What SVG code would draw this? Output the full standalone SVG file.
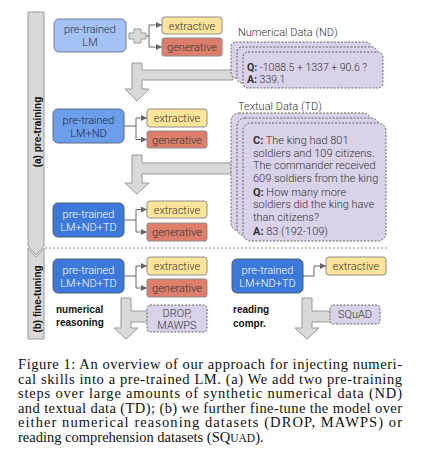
<svg xmlns="http://www.w3.org/2000/svg" width="421" height="471" viewBox="0 0 421 471">
<defs>
<marker id="ah" markerUnits="userSpaceOnUse" markerWidth="6" markerHeight="6" refX="6" refY="3" orient="auto">
<path d="M0,0 L6,3 L0,6 Z" fill="#666"/>
</marker>
<style>
.t{font-family:Roboto,"Liberation Sans",sans-serif;font-weight:300;font-size:11px;fill:#333}
.tw{font-family:Roboto,"Liberation Sans",sans-serif;font-weight:300;font-size:11px;fill:#fff}
.b{font-family:"Liberation Sans",Arial,sans-serif;font-weight:bold;font-size:10px;fill:#111}
.bb{font-weight:bold}
.m{text-anchor:middle}
.ext{fill:#ffe599;stroke:#8c8c8c;stroke-width:1}
.gen{fill:#dd7e6b;stroke:#8c8c8c;stroke-width:1}
.card{fill:#d9d2e9;stroke:#666;stroke-width:1;stroke-dasharray:2,1.5}
.big{fill:#d9d9d9;stroke:#999;stroke-width:1}
.con{fill:none;stroke:#666;stroke-width:1;marker-end:url(#ah)}
.cap{font-family:"Liberation Serif","Times New Roman",serif;font-size:14.5px;fill:#111}
</style>
</defs>
<rect width="421" height="471" fill="#fff"/>

<!-- side bars -->
<g id="bar-pretraining">
<path class="big" d="M28,12 H44 V246 L36,255 L28,246 Z"/>
<text class="b" transform="translate(41,132) rotate(-90)" text-anchor="middle">(a) pre-training</text>
</g>
<g id="bar-finetuning">
<path class="big" d="M28,248 L36,257 L44,248 V339 H28 Z"/>
<text class="b" transform="translate(41,299) rotate(-90)" text-anchor="middle">(b) fine-tuning</text>
</g>
<line x1="45" y1="248" x2="388" y2="248" stroke="#888" stroke-width="1" stroke-dasharray="2,2"/>

<!-- big arrows -->
<g id="big-arrows">
<path class="big" d="M132,63 H142 V70 H233 V80 H142 V89 H149 L137,101 L125,89 H132 Z"/>
<path class="big" d="M132,155 H142 V163 H233 V174 H142 V183 H149 L137,194 L125,183 H132 Z"/>
<path class="big" d="M121,298 H131 V311 H148 V322 H131 V328 H138 L126,339 L114,328 H121 Z"/>
<path class="big" d="M302,298 H312 V311 H331 V322 H312 V328 H319 L307,339 L295,328 H302 Z"/>
</g>

<!-- connectors -->
<g id="connectors">
<path class="con" d="M146,36 H149 V25 H162"/>
<path class="con" d="M149,36 V47 H162"/>
<path class="con" d="M124,126 H136 V118 H147"/>
<path class="con" d="M136,126 V139.5 H147"/>
<path class="con" d="M124,220 H136 V209.5 H147"/>
<path class="con" d="M136,220 V232 H147"/>
<path class="con" d="M124,276 H136 V266 H147"/>
<path class="con" d="M136,276 V288 H147"/>
<path class="con" d="M303,276 H314 V266 H326"/>
</g>

<!-- plus -->
<g id="plus">
<path d="M134,29 H141 V33 H146 V39 H141 V43 H134 V39 H129 V33 H134 Z" fill="#d9d9d9" stroke="#999" stroke-width="1"/>
</g>

<!-- models -->
<g id="lm">
<rect x="54" y="19" width="72" height="33" rx="5" fill="#a4c2f4" stroke="#6f7f99"/>
<text class="t m" x="90" y="33">pre-trained</text>
<text class="t m" x="90" y="46">LM</text>
</g>
<g id="lm-nd">
<rect x="53" y="109" width="71" height="34" rx="5" fill="#6d9eeb" stroke="#5a6a86"/>
<text class="t m" x="88.5" y="124" style="fill:#1f2a40">pre-trained</text>
<text class="t m" x="88.5" y="137" style="fill:#1f2a40">LM+ND</text>
</g>
<g id="lm-nd-td">
<rect x="53" y="203" width="71" height="34" rx="5" fill="#3c78d8" stroke="#4a5a78"/>
<text class="tw m" x="88.5" y="218">pre-trained</text>
<text class="tw m" x="88.5" y="231">LM+ND+TD</text>
</g>
<g id="ft-num">
<rect x="53" y="259" width="71" height="34" rx="5" fill="#3c78d8" stroke="#4a5a78"/>
<text class="tw m" x="88.5" y="274">pre-trained</text>
<text class="tw m" x="88.5" y="287">LM+ND+TD</text>
</g>
<g id="ft-rc">
<rect x="232" y="259" width="71" height="34" rx="5" fill="#3c78d8" stroke="#4a5a78"/>
<text class="tw m" x="267.5" y="274">pre-trained</text>
<text class="tw m" x="267.5" y="287">LM+ND+TD</text>
</g>

<!-- heads -->
<g id="ext1"><rect class="ext" x="162" y="17" width="60" height="17" rx="3"/><text class="t m" x="192" y="29.5">extractive</text></g>
<g id="gen1"><rect class="gen" x="162" y="38" width="60" height="18" rx="2"/><text class="t m" x="192" y="51">generative</text></g>
<g id="ext2"><rect class="ext" x="147" y="109" width="60" height="18" rx="3"/><text class="t m" x="177" y="122">extractive</text></g>
<g id="gen2"><rect class="gen" x="147" y="131" width="60" height="17" rx="2"/><text class="t m" x="177" y="143.5">generative</text></g>
<g id="ext3"><rect class="ext" x="147" y="201" width="60" height="17" rx="3"/><text class="t m" x="177" y="213.5">extractive</text></g>
<g id="gen3"><rect class="gen" x="147" y="223" width="60" height="18" rx="2"/><text class="t m" x="177" y="236">generative</text></g>
<g id="ext4"><rect class="ext" x="147" y="257" width="60" height="18" rx="3"/><text class="t m" x="177" y="270">extractive</text></g>
<g id="gen4"><rect class="gen" x="147" y="279" width="60" height="18" rx="2"/><text class="t m" x="177" y="292">generative</text></g>
<g id="ext5"><rect class="ext" x="326" y="257" width="60" height="18" rx="3"/><text class="t m" x="356" y="270">extractive</text></g>

<!-- datasets -->
<g id="drop"><rect class="card" x="147" y="305" width="60" height="27" rx="3"/><text class="t m" x="177" y="317">DROP,</text><text class="t m" x="177" y="329">MAWPS</text></g>
<g id="squad"><rect class="card" x="330" y="305" width="50" height="19" rx="3"/><text class="t m" x="355" y="318">SQuAD</text></g>
<g id="label-num"><text class="b" x="56" y="313">numerical</text><text class="b" x="56" y="326">reasoning</text></g>
<g id="label-rc"><text class="b" x="233" y="313">reading</text><text class="b" x="233" y="327">compr.</text></g>

<!-- numerical data -->
<g id="nd">
<text class="t" x="238" y="36">Numerical Data (ND)</text>
<rect class="card" x="231" y="42" width="140" height="36" rx="5"/>
<rect class="card" x="237" y="47" width="140" height="36" rx="5"/>
<rect class="card" x="243" y="52" width="140" height="36" rx="5"/>
<text class="t" x="247" y="70.5" style="font-size:10.5px"><tspan class="bb">Q:</tspan> -1088.5 + 1337 + 90.6 ?</text>
<text class="t" x="247" y="82.5" style="font-size:10.5px"><tspan class="bb">A:</tspan> 339.1</text>
</g>

<!-- textual data -->
<g id="td">
<text class="t" x="238" y="110">Textual Data (TD)</text>
<rect class="card" x="231" y="113" width="140" height="118" rx="8"/>
<rect class="card" x="237" y="118" width="142" height="118" rx="8"/>
<rect class="card" x="243" y="123" width="143" height="118" rx="8"/>
<text class="t" x="253" y="144"><tspan class="bb">C:</tspan> The king had 801</text>
<text class="t" x="253" y="157">soldiers and 109 citizens.</text>
<text class="t" x="253" y="169">The commander received</text>
<text class="t" x="253" y="182">609 soldiers from the king</text>
<text class="t" x="253" y="196"><tspan class="bb">Q:</tspan> How many more</text>
<text class="t" x="253" y="208">soldiers did the king have</text>
<text class="t" x="253" y="221">than citizens?</text>
<text class="t" x="253" y="235"><tspan class="bb">A:</tspan> 83 (192-109)</text>
</g>

<!-- caption -->
<g id="caption">
<text class="cap" x="18" y="369.3" textLength="384" lengthAdjust="spacing">Figure 1: An overview of our approach for injecting numeri-</text>
<text class="cap" x="18" y="383.8" textLength="384" lengthAdjust="spacing">cal skills into a pre-trained LM. (a) We add two pre-training</text>
<text class="cap" x="18" y="398.3" textLength="384" lengthAdjust="spacing">steps over large amounts of synthetic numerical data (ND)</text>
<text class="cap" x="18" y="412.8" textLength="384" lengthAdjust="spacing">and textual data (TD); (b) we further fine-tune the model over</text>
<text class="cap" x="18" y="427.3" textLength="384" lengthAdjust="spacing">either numerical reasoning datasets (DROP, MAWPS) or</text>
<text class="cap" x="18" y="441.8">reading comprehension datasets (SQ<tspan font-size="11.5">UAD</tspan>).</text>
</g>
</svg>
